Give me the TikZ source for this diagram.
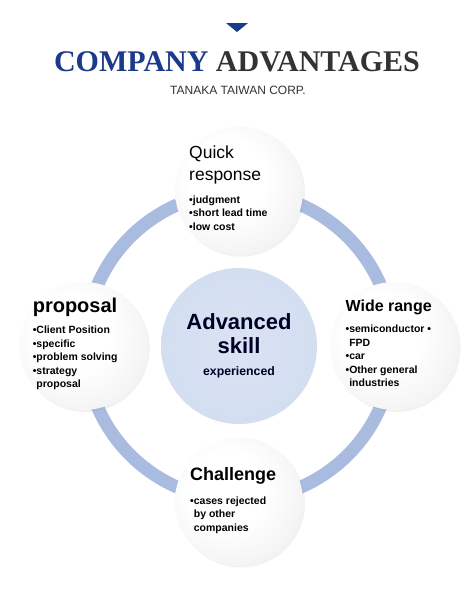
\documentclass[tikz,border=0pt]{standalone}
\usepackage{fontspec}
\setmainfont{Liberation Serif}
\setsansfont{Liberation Sans}
\usepackage{xcolor}
\usepackage{tikz}
\usetikzlibrary{positioning, shadows}

\definecolor{navy}{HTML}{1B3A8A}
\definecolor{darktxt}{HTML}{333333}
\definecolor{ringblue}{HTML}{A9BCE0}
\definecolor{coreblue}{HTML}{D3DEF1}
\newcommand{\blt}{\textbullet}
\pgfdeclareradialshading{softball}{\pgfpoint{-6bp}{6bp}}{color(0bp)=(white); color(15bp)=(white); color(35bp)=(black!6); color(50bp)=(black!11); color(60bp)=(black!17); color(80bp)=(black!17)}

\begin{document}
\begin{tikzpicture}[x=1pt, y=-1pt, node distance=13 pt]
\tikzstyle{ball} = [circle, minimum size=128 pt, inner sep=0 pt, shading=softball, drop shadow={opacity=0.1, shadow xshift=2 pt, shadow yshift=-2 pt}]
\tikzstyle{core} = [circle, minimum size=156 pt, inner sep=0 pt, inner color=coreblue!85, outer color=coreblue]
\tikzstyle{head} = [inner sep=0 pt, anchor=north west, align=left, text=black, font=\sffamily\bfseries]
\tikzstyle{items} = [inner sep=0 pt, anchor=north west, align=left, text=black, font=\sffamily\bfseries\fontsize{10.5}{13.5}\selectfont]

\fill [white] (0,0) rectangle (474,590);
\useasboundingbox (0,0) rectangle (474,590);

% title
\fill [navy] (226,23) -- (248,23) -- (237,32) -- cycle;
\node (title) [inner sep=0 pt, font=\bfseries\fontsize{30}{30}\selectfont] at (237,62) {\textcolor{navy}{COMPANY} \textcolor{darktxt}{ADVANTAGES}};
\node (corp) [inner sep=0 pt, text=darktxt, font=\sffamily\fontsize{12}{12}\selectfont] at (238,90.5) {TANAKA TAIWAN CORP.};

% circles
\node (AS) [core] at (239,346) {};
\draw [ringblue, line width=13 pt] (AS) circle (154);
\node (QR) [ball, above=of AS] {};
\node (PR) [ball, left=of AS] {};
\node (WR) [ball, right=of AS] {};
\node (CH) [ball, below=of AS] {};

% texts
\node (ASh) [inner sep=0 pt, anchor=north, align=center, text=black!85!blue, font=\sffamily\bfseries\fontsize{22}{24}\selectfont] at ([yshift=33 pt]AS.center) {Advanced\\skill};
\node (ASt) [inner sep=0 pt, text=black!85!blue, font=\sffamily\bfseries\fontsize{12.3}{14}\selectfont] at ([yshift=-26 pt]AS.center) {experienced};

\node (QRh) [head, font=\sffamily\fontsize{17.5}{22}\selectfont] at ([xshift=-50 pt, yshift=45 pt]QR.center) {Quick\\response};
\node (QRt) [items] at ([xshift=-50 pt, yshift=-5 pt]QR.center) {\blt judgment\\\blt short lead time\\\blt low cost};

\node (PRh) [head, font=\sffamily\bfseries\fontsize{20}{22}\selectfont] at ([xshift=-51 pt, yshift=48 pt]PR.center) {proposal};
\node (PRt) [items] at ([xshift=-51 pt, yshift=20 pt]PR.center) {\blt Client Position\\\blt specific\\\blt problem solving\\\blt strategy\\\hphantom{\blt}proposal};

\node (WRh) [head, font=\sffamily\bfseries\fontsize{16}{18}\selectfont] at ([xshift=-49 pt, yshift=46 pt]WR.center) {Wide range};
\node (WRt) [items] at ([xshift=-49 pt, yshift=21 pt]WR.center) {\blt semiconductor \blt\\\hphantom{\blt}FPD\\\blt car\\\blt Other general\\\hphantom{\blt}industries};

\node (CHh) [head, font=\sffamily\bfseries\fontsize{18}{20}\selectfont] at ([xshift=-49 pt, yshift=34 pt]CH.center) {Challenge};
\node (CHt) [items] at ([xshift=-49 pt, yshift=5 pt]CH.center) {\blt cases rejected\\\hphantom{\blt}by other\\\hphantom{\blt}companies};

\end{tikzpicture}
\end{document}
